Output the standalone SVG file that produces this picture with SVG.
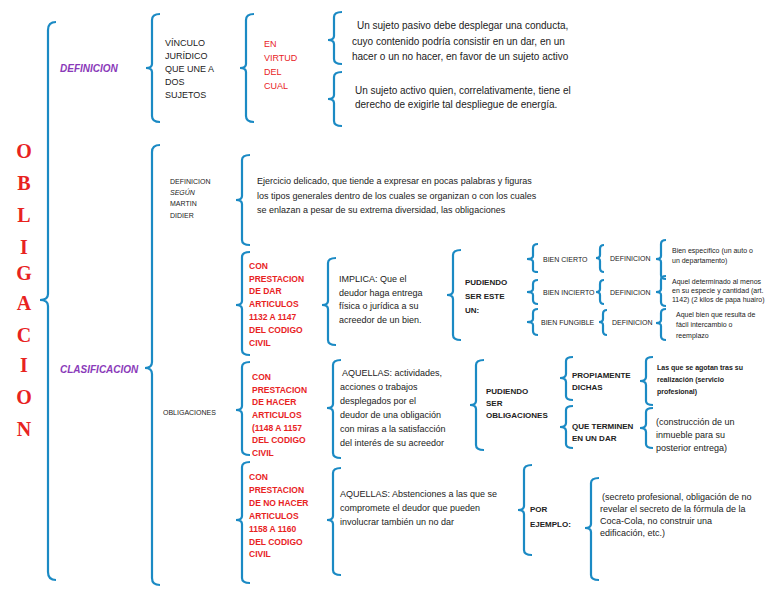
<svg xmlns="http://www.w3.org/2000/svg" width="768" height="594" viewBox="0 0 768 594">
<style>
.b{fill:none;stroke:#1b8ac4;stroke-width:2.2}
text{font-family:"Liberation Sans",Arial,sans-serif;fill:#222}
.s{font-size:10px}
.xs{font-size:7px}
.t{font-size:9px}
.r{fill:#e8231f;font-weight:bold;font-size:8.5px}
.rr{fill:#e8231f;font-size:9px}
.p{fill:#8a3ab9;font-style:italic;font-weight:bold;font-size:10px}
.o{fill:#e8231f;font-weight:bold;font-size:20px;font-family:"Liberation Serif",serif}
.k{font-weight:bold;font-size:8px}
</style>
<rect width="768" height="594" fill="#fff"/>
<g id="connectors">
<path class="b" d="M56,22Q48,22 48,30V294Q48,300 40,300Q48,300 48,306V572Q48,580 56,580"/>
<path class="b" d="M160,14Q152,14 152,20V64Q152,68 146,68Q152,68 152,72V116Q152,122 160,122"/>
<path class="b" d="M254,14Q246,14 246,20V64Q246,68 240,68Q246,68 246,72V116Q246,122 254,122"/>
<path class="b" d="M342,12Q334,12 334,17V36Q334,40 328,40Q334,40 334,44V59Q334,64 342,64"/>
<path class="b" d="M342,72Q334,72 334,77V95Q334,99 328,99Q334,99 334,103V121Q334,126 342,126"/>
<path class="b" d="M160,145Q152,145 152,152V362Q152,368 145,368Q152,368 152,374V578Q152,585 160,585"/>
<path class="b" d="M250,155Q242,155 242,160V196Q242,200 236,200Q242,200 242,204V240Q242,245 250,245"/>
<path class="b" d="M250,252Q242,252 242,257V301Q242,305 236,305Q242,305 242,309V350Q242,355 250,355"/>
<path class="b" d="M336,258Q328,258 328,263V301Q328,305 322,305Q328,305 328,309V340Q328,345 336,345"/>
<path class="b" d="M461,250Q453,250 453,255V291Q453,295 447,295Q453,295 453,299V335Q453,340 461,340"/>
<path class="b" d="M538,244Q533,244 533,248V256Q533,259 527,259Q533,259 533,262V270Q533,272 538,272"/>
<path class="b" d="M538,280Q533,280 533,284V289Q533,292 527,292Q533,292 533,295V300Q533,304 538,304"/>
<path class="b" d="M538,309Q533,309 533,313V319Q533,322 527,322Q533,322 533,325V331Q533,335 538,335"/>
<path class="b" d="M604,245Q600,245 600,249V255Q600,258 596,258Q600,258 600,261V268Q600,272 604,272"/>
<path class="b" d="M604,280Q600,280 600,284V289Q600,292 596,292Q600,292 600,295V300Q600,304 604,304"/>
<path class="b" d="M607,310Q603,310 603,314V319Q603,322 599,322Q603,322 603,325V331Q603,335 607,335"/>
<path class="b" d="M666,240Q661,240 661,244V256Q661,259 656,259Q661,259 661,262V275Q661,279 666,279"/>
<path class="b" d="M666,276Q661,276 661,280V289Q661,292 656,292Q661,292 661,295V302Q661,306 666,306"/>
<path class="b" d="M666,309Q661,309 661,313V320Q661,323 656,323Q661,323 661,326V336Q661,340 666,340"/>
<path class="b" d="M250,362Q242,362 242,367V406Q242,410 236,410Q242,410 242,414V450Q242,455 250,455"/>
<path class="b" d="M341,360Q333,360 333,365V404Q333,408 327,408Q333,408 333,412V453Q333,458 341,458"/>
<path class="b" d="M484,360Q476,360 476,365V401Q476,405 470,405Q476,405 476,409V445Q476,450 484,450"/>
<path class="b" d="M573,357Q566,357 566,361V374Q566,378 560,378Q566,378 566,382V396Q566,400 573,400"/>
<path class="b" d="M573,406Q566,406 566,410V423Q566,427 560,427Q566,427 566,431V444Q566,448 573,448"/>
<path class="b" d="M653,357Q646,357 646,361V377Q646,381 640,381Q646,381 646,385V401Q646,405 653,405"/>
<path class="b" d="M653,408Q646,408 646,412V424Q646,428 640,428Q646,428 646,432V444Q646,448 653,448"/>
<path class="b" d="M250,462Q242,462 242,467V516Q242,520 236,520Q242,520 242,524V578Q242,583 250,583"/>
<path class="b" d="M341,468Q333,468 333,473V516Q333,520 327,520Q333,520 333,524V570Q333,575 341,575"/>
<path class="b" d="M532,465Q524,465 524,470V506Q524,510 518,510Q524,510 524,514V550Q524,555 532,555"/>
<path class="b" d="M599,478Q591,478 591,483V524Q591,528 585,528Q591,528 591,532V575Q591,580 599,580"/>
</g>
<g id="obligacion"><text class="o" x="24" y="158" text-anchor="middle">O</text><text class="o" x="24" y="190" text-anchor="middle">B</text><text class="o" x="24" y="222" text-anchor="middle">L</text><text class="o" x="24" y="254" text-anchor="middle">I</text><text class="o" x="24" y="280" text-anchor="middle">G</text><text class="o" x="24" y="310" text-anchor="middle">A</text><text class="o" x="24" y="342" text-anchor="middle">C</text><text class="o" x="24" y="372" text-anchor="middle">I</text><text class="o" x="24" y="404" text-anchor="middle">O</text><text class="o" x="24" y="436" text-anchor="middle">N</text></g>
<g id="definicion"><text class="p" x="60" y="72">DEFINICION</text></g>
<g id="vinculo"><text class="t" x="165" y="46">VÍNCULO</text><text class="t" x="165" y="59">JURÍDICO</text><text class="t" x="165" y="72">QUE UNE A</text><text class="t" x="165" y="85">DOS</text><text class="t" x="165" y="98">SUJETOS</text></g>
<g id="virtud"><text class="rr" x="264" y="47">EN</text><text class="rr" x="264" y="61">VIRTUD</text><text class="rr" x="264" y="75">DEL</text><text class="rr" x="264" y="89">CUAL</text></g>
<g id="pasivo"><text class="s" x="357" y="29">Un sujeto pasivo debe desplegar una conducta,</text><text class="s" x="352" y="45">cuyo contenido podría consistir en un dar, en un</text><text class="s" x="352" y="60">hacer o un no hacer, en favor de un sujeto activo</text></g>
<g id="activo"><text class="s" x="355" y="94">Un sujeto activo quien, correlativamente, tiene el</text><text class="s" x="355" y="108">derecho de exigirle tal despliegue de energía.</text></g>
<g id="clasificacion"><text class="p" x="60" y="373">CLASIFICACION</text></g>
<g id="didier"><text class="xs" x="170" y="184">DEFINICION</text><text class="xs" x="170" y="195" font-style="italic">SEGÚN</text><text class="xs" x="170" y="206">MARTIN</text><text class="xs" x="170" y="218">DIDIER</text></g>
<g id="ejercicio"><text class="t" x="257" y="184">Ejercicio delicado, que tiende a expresar en pocas palabras y figuras</text><text class="t" x="257" y="199">los tipos generales dentro de los cuales se organizan o con los cuales</text><text class="t" x="257" y="213">se enlazan a pesar de su extrema diversidad, las obligaciones</text></g>
<g id="obligaciones"><text class="xs" x="163" y="415">OBLIGACIONES</text></g>
<g id="dar"><text class="r" x="249" y="269">CON</text><text class="r" x="249" y="282">PRESTACION</text><text class="r" x="249" y="294">DE DAR</text><text class="r" x="249" y="307">ARTICULOS</text><text class="r" x="249" y="320">1132 A 1147</text><text class="r" x="249" y="333">DEL CODIGO</text><text class="r" x="249" y="346">CIVIL</text></g>
<g id="implica"><text class="t" x="339" y="282">IMPLICA: Que el</text><text class="t" x="339" y="296">deudor haga entrega</text><text class="t" x="339" y="309">física o jurídica a su</text><text class="t" x="339" y="323">acreedor de un bien.</text></g>
<g id="pudiendo1"><text class="k" x="465" y="285">PUDIENDO</text><text class="k" x="465" y="299">SER ESTE</text><text class="k" x="465" y="313">UN:</text></g>
<g id="bienes"><text class="xs" x="543" y="262">BIEN CIERTO</text><text class="xs" x="543" y="295">BIEN INCIERTO</text><text class="xs" x="541" y="325">BIEN FUNGIBLE</text>
<text class="xs" x="610" y="261">DEFINICION</text><text class="xs" x="610" y="295">DEFINICION</text><text class="xs" x="612" y="325">DEFINICION</text>
<text class="xs" x="672" y="253">Bien específico (un auto o</text><text class="xs" x="672" y="263">un departamento)</text>
<text class="xs" x="672" y="284" font-size="6">Aquel determinado al menos</text><text class="xs" x="672" y="293" font-size="6">en su especie y cantidad (art.</text><text class="xs" x="672" y="302" font-size="6">1142) (2 kilos de papa huairo)</text>
<text class="xs" x="676" y="317">Aquel bien que resulta de</text><text class="xs" x="676" y="327">fácil intercambio o</text><text class="xs" x="676" y="338">reemplazo</text></g>
<g id="hacer"><text class="r" x="252" y="380">CON</text><text class="r" x="252" y="393">PRESTACION</text><text class="r" x="252" y="405">DE HACER</text><text class="r" x="252" y="418">ARTICULOS</text><text class="r" x="252" y="431">(1148 A 1157</text><text class="r" x="252" y="443">DEL CODIGO</text><text class="r" x="252" y="456">CIVIL</text></g>
<g id="aquellas1"><text class="t" x="342" y="376">AQUELLAS: actividades,</text><text class="t" x="340" y="390">acciones o trabajos</text><text class="t" x="340" y="404">desplegados por el</text><text class="t" x="340" y="418">deudor de una obligación</text><text class="t" x="340" y="432">con miras a la satisfacción</text><text class="t" x="340" y="446">del interés de su acreedor</text></g>
<g id="pudiendo2"><text class="k" x="486" y="394">PUDIENDO</text><text class="k" x="486" y="406">SER</text><text class="k" x="486" y="418">OBLIGACIONES</text></g>
<g id="propiamente"><text class="k" x="572" y="378">PROPIAMENTE</text><text class="k" x="572" y="390">DICHAS</text></g>
<g id="terminen"><text class="k" x="572" y="429">QUE TERMINEN</text><text class="k" x="572" y="441">EN UN DAR</text></g>
<g id="agotan"><text class="xs" x="657" y="370" font-weight="bold">Las que se agotan tras su</text><text class="xs" x="657" y="382" font-weight="bold">realización (servicio</text><text class="xs" x="657" y="394" font-weight="bold">profesional)</text></g>
<g id="construccion"><text class="t" x="656" y="425">(construcción de un</text><text class="t" x="656" y="438">inmueble para su</text><text class="t" x="656" y="451">posterior entrega)</text></g>
<g id="nohacer"><text class="r" x="249" y="480">CON</text><text class="r" x="249" y="493">PRESTACION</text><text class="r" x="249" y="506">DE NO HACER</text><text class="r" x="249" y="519">ARTICULOS</text><text class="r" x="249" y="532">1158 A 1160</text><text class="r" x="249" y="545">DEL CODIGO</text><text class="r" x="249" y="557">CIVIL</text></g>
<g id="aquellas2"><text class="t" x="340" y="497">AQUELLAS: Abstenciones a las que se</text><text class="t" x="340" y="511">compromete el deudor que pueden</text><text class="t" x="340" y="525">involucrar también un no dar</text></g>
<g id="ejemplo"><text class="k" x="530" y="512">POR</text><text class="k" x="530" y="527">EJEMPLO:</text></g>
<g id="secreto"><text class="t" x="602" y="500">(secreto profesional, obligación de no</text><text class="t" x="600" y="512">revelar el secreto de la fórmula de la</text><text class="t" x="600" y="524">Coca-Cola, no construir una</text><text class="t" x="600" y="536">edificación, etc.)</text></g>
</svg>
